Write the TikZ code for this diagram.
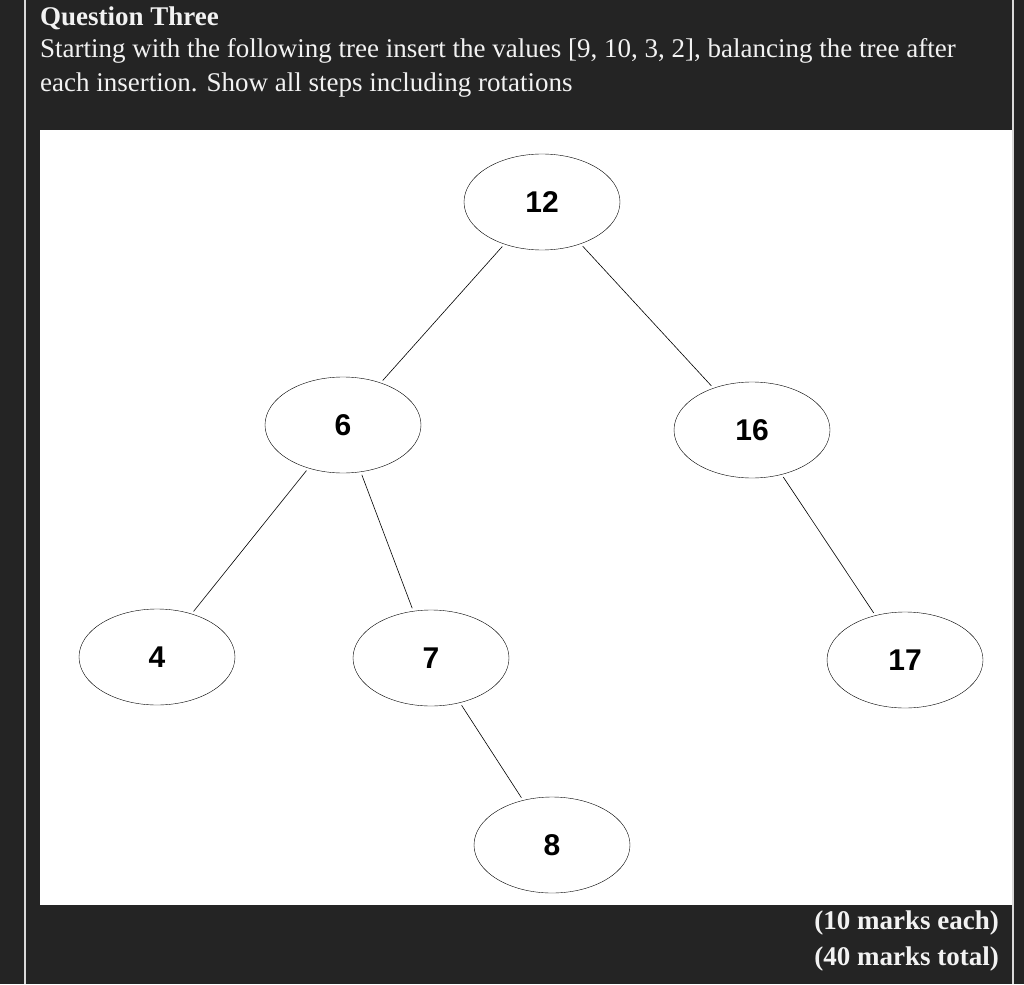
\documentclass[tikz,border=0pt]{standalone}
\usepackage{fontspec}
\setmainfont{Liberation Serif}
\newfontfamily\arialf{Liberation Sans}
\usetikzlibrary{shapes.geometric}
\begin{document}
\begin{tikzpicture}[x=1pt,y=-1pt,
  nd/.style={draw=black,ellipse,minimum width=156pt,minimum height=96pt,inner sep=0pt,font=\arialf\bfseries\fontsize{30}{34}\selectfont},
  ed/.style={draw=black,line width=0.6pt,shorten <=3pt,shorten >=3pt},
  txt/.style={text=white!95!black,anchor=base west,inner sep=0pt,font=\fontsize{27}{30}\selectfont}]
\fill[fill=black!86] (0,0) rectangle (1024,984);
\useasboundingbox (0,0) rectangle (1024,984);
\draw[white!85!black,line width=1.5pt] (25,0) -- (25,984);
\draw[white!85!black,line width=1.5pt] (1013,0) -- (1013,984);
\fill[white] (40,130) rectangle (1012,905);
\node[txt,font=\bfseries\fontsize{27}{30}\selectfont] (t1) at (40,26) {Question Three};
\node[txt] (t2) at (40,58) {Starting with the following tree insert the values [9, 10, 3, 2], balancing the tree after};
\node[txt] (t3) at (40,92) {each insertion. Show all steps including rotations};
\node[txt,anchor=base east,font=\bfseries\fontsize{27}{30}\selectfont] (m1) at (999,929) {(10 marks each)};
\node[txt,anchor=base east,font=\bfseries\fontsize{27}{30}\selectfont] (m2) at (999,965) {(40 marks total)};
\node[nd] (n12) at (542,202) {12};
\node[nd] (n6) at (343,425) {6};
\node[nd] (n16) at (752,430) {16};
\node[nd] (n4) at (157,657) {4};
\node[nd] (n7) at (431,658) {7};
\node[nd] (n17) at (905,660) {17};
\node[nd] (n8) at (552,845) {8};
\draw[ed] (n12) -- (n6);
\draw[ed] (n12) -- (n16);
\draw[ed] (n6) -- (n4);
\draw[ed] (n6) -- (n7);
\draw[ed] (n16) -- (n17);
\draw[ed] (n7) -- (n8);
\end{tikzpicture}
\end{document}
